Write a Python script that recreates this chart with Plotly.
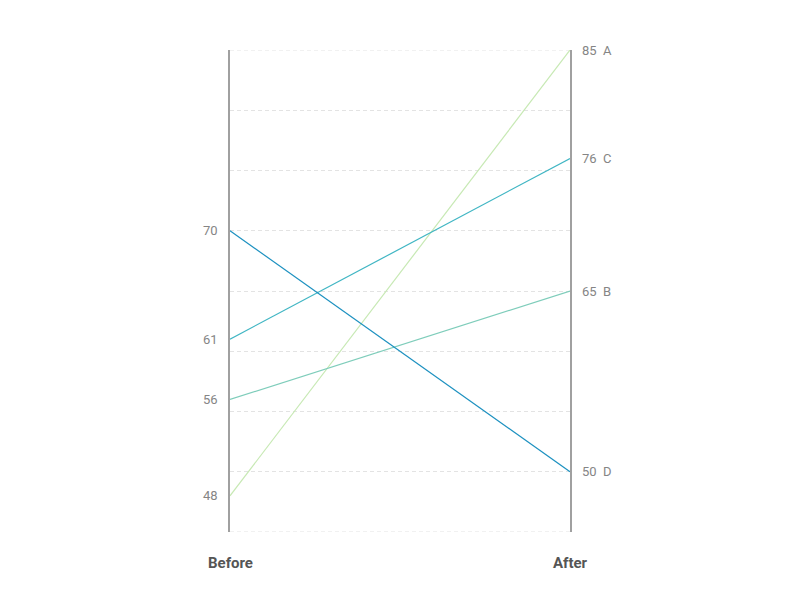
import plotly.graph_objects as go

# slope chart: before / after values per group
groups = ["A", "B", "C", "D"]
before = [48, 56, 61, 70]
after = [85, 65, 76, 50]
periods = ["Before", "After"]
colors = ["#c7e9b4", "#7fcdbb", "#41b6c4", "#1d91c0"]

fig = go.Figure()

for g, b, a, c in zip(groups, before, after, colors):
    fig.add_trace(go.Scatter(
        x=[0, 1], y=[b, a], mode="lines", name=g,
        line=dict(color=c, width=1.2), hoverinfo="skip",
    ))
    # left value label
    fig.add_annotation(x=0, y=b, text=str(b), showarrow=False,
                       xanchor="right", xshift=-10,
                       font=dict(size=13, color="#858585"))
    # right value + group label
    fig.add_annotation(x=1, y=a, text=f"{a}&nbsp;&nbsp;{g}", showarrow=False,
                       xanchor="left", xshift=10,
                       font=dict(size=13, color="#858585"))

for i, p in enumerate(periods):
    fig.add_annotation(x=i, y=0, yref="paper", yanchor="middle", yshift=-31,
                       text=f"<b>{p}</b>", showarrow=False,
                       font=dict(size=15, color="#555"))

# dashed lines at the range edges (plotly skips grid there)
for yv in [45, 85]:
    fig.add_shape(type="line", x0=0, x1=1, y0=yv, y1=yv, layer="below",
                  line=dict(color="#e3e3e3", width=1, dash="4px,3px"))

fig.update_layout(
    width=800, height=600,
    plot_bgcolor="white", paper_bgcolor="white",
    showlegend=False,
    font=dict(family="Roboto"),
    margin=dict(l=222, r=238, t=42, b=76),
    xaxis=dict(range=[0, 1], showgrid=False, zeroline=False,
               showticklabels=False, showline=False),
    yaxis=dict(range=[45, 85], dtick=5, showgrid=True, gridcolor="#e3e3e3",
               griddash="4px,3px", gridwidth=1, zeroline=False,
               showticklabels=False, showline=True, linecolor="#a0a0a0",
               linewidth=2, mirror=True),
)

fig.write_html("out.html")
